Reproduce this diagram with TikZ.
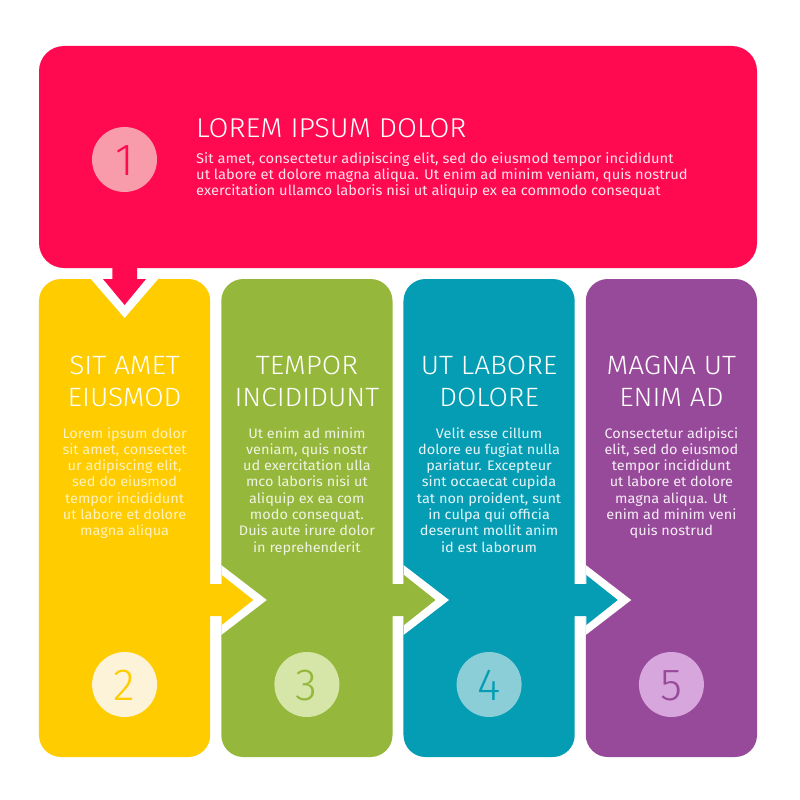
\documentclass[tikz,border=0pt]{standalone}
\usepackage{fontspec}
\setmainfont{Fira Sans}[FakeStretch=1.05]
\newfontfamily\lightf{Fira Sans Light}[FakeStretch=1.06]
\newfontfamily\numf{Fira Sans Light}
\definecolor{cpink}{HTML}{FF0A50}
\definecolor{cyellow}{HTML}{FFCC00}
\definecolor{cgreen}{HTML}{95B73C}
\definecolor{cteal}{HTML}{049DB4}
\definecolor{cpurple}{HTML}{984A9A}
\definecolor{lpink}{HTML}{F89CAB}
\definecolor{lyellow}{HTML}{FDF3D8}
\definecolor{lgreen}{HTML}{D6E5A8}
\definecolor{lteal}{HTML}{8BCED8}
\definecolor{lpurple}{HTML}{D7A6DC}
\begin{document}
\begin{tikzpicture}[x=1pt,y=-1pt,
  panel/.style={rectangle, inner sep=0, rounded corners=22pt},
  numcirc/.style={circle, inner sep=0, minimum size=65pt},
  numtxt/.style={font=\numf\fontsize{45}{45}\selectfont, inner sep=0, anchor=base},
  head/.style={font=\lightf\fontsize{26.5}{32}\selectfont, text=white, inner sep=0, align=center, anchor=base},
  body/.style={font=\fontsize{13.8}{16.3}\selectfont, inner sep=0, align=center, anchor=base}]
\useasboundingbox (0,0) rectangle (800,800);
% top panel
\node[panel, rounded corners=25pt, fill=cpink, minimum width=718pt, minimum height=222pt] (top) at (398,157) {};
% columns
\node[panel, fill=cyellow, minimum width=171.25pt, minimum height=478pt] (c2) at (124.6,518) {};
\node[panel, fill=cgreen,  minimum width=171.25pt, minimum height=478pt] (c3) at (306.9,518) {};
\node[panel, fill=cteal,   minimum width=171.25pt, minimum height=478pt] (c4) at (489.1,518) {};
\node[panel, fill=cpurple, minimum width=171.25pt, minimum height=478pt] (c5) at (671.4,518) {};
% down arrow
\fill[white] (90,278) -- (124.6,318) -- (159,278) -- cycle;
\fill[cpink] (112.3,262) -- (137,262) -- (137,279) -- (146,279) -- (124.6,305) -- (103,279) -- (112.3,279) -- cycle;
% right arrows
\foreach \b/\c in {221.25/cyellow, 403.5/cgreen, 585.75/cteal}{
  \fill[white] (\b,565) -- (\b+45.5,600) -- (\b,635) -- cycle;
  \fill[\c] (\b-12,584) -- (\b+0.5,584) -- (\b+0.5,575) -- (\b+32,600) -- (\b+0.5,625) -- (\b+0.5,616) -- (\b-12,616) -- cycle;
}
% top texts
\node[numcirc, fill=lpink] (n1) at (124.5,159.5) {};
\node[numtxt, text=cpink] at ([yshift=-15.5pt]n1.center) {1};
\node[font=\lightf\fontsize{27.2}{30}\selectfont, text=white, inner sep=0, anchor=base west] (t1) at (196,137) {LOREM IPSUM DOLOR};
\node[font=\fontsize{14}{16}\selectfont, text=white!88!cpink, inner sep=0, anchor=base west, align=left] (b1) at (196,195)
 {Sit amet, consectetur adipiscing elit, sed do eiusmod tempor incididunt\\
  ut labore et dolore magna aliqua. Ut enim ad minim veniam, quis nostrud\\
  exercitation ullamco laboris nisi ut aliquip ex ea commodo consequat};
% column headers
\node[head] (h2) at (124.6,406) {SIT AMET\\EIUSMOD};
\node[head] (h3) at (306.9,406) {TEMPOR\\INCIDIDUNT};
\node[head] (h4) at (489.1,406) {UT LABORE\\DOLORE};
\node[head] (h5) at (671.4,406) {MAGNA UT\\ENIM AD};
% column bodies
\node[body, text=white!75!cyellow] (b2) at (124.6,535.8) {Lorem ipsum dolor\\sit amet, consectet\\ur adipiscing elit,\\sed do eiusmod\\tempor incididunt\\ut labore et dolore\\magna aliqua};
\node[body, text=white!85!cgreen] (b3) at (306.9,552.1) {Ut enim ad minim\\veniam, quis nostr\\ud exercitation ulla\\mco laboris nisi ut\\aliquip ex ea com\\modo consequat.\\Duis aute irure dolor\\in reprehenderit};
\node[body, text=white!90!cteal] (b4) at (489.1,552.1) {Velit esse cillum\\dolore eu fugiat nulla\\pariatur. Excepteur\\sint occaecat cupida\\tat non proident, sunt\\in culpa qui officia\\deserunt mollit anim\\id est laborum};
\node[body, text=white!90!cpurple] (b5) at (671.4,535.8) {Consectetur adipisci\\elit, sed do eiusmod\\tempor incididunt\\ut labore et dolore\\magna aliqua. Ut\\enim ad minim veni\\quis nostrud};
% number circles
\node[numcirc, fill=lyellow] (n2) at (124.6,684.5) {};
\node[numtxt, text=cyellow] at ([yshift=-15.5pt]n2.center) {2};
\node[numcirc, fill=lgreen] (n3) at (306.9,684.5) {};
\node[numtxt, text=cgreen] at ([yshift=-15.5pt]n3.center) {3};
\node[numcirc, fill=lteal] (n4) at (489.1,684.5) {};
\node[numtxt, text=cteal] at ([yshift=-15.5pt]n4.center) {4};
\node[numcirc, fill=lpurple] (n5) at (671.4,684.5) {};
\node[numtxt, text=cpurple] at ([yshift=-15.5pt]n5.center) {5};
\end{tikzpicture}
\end{document}
